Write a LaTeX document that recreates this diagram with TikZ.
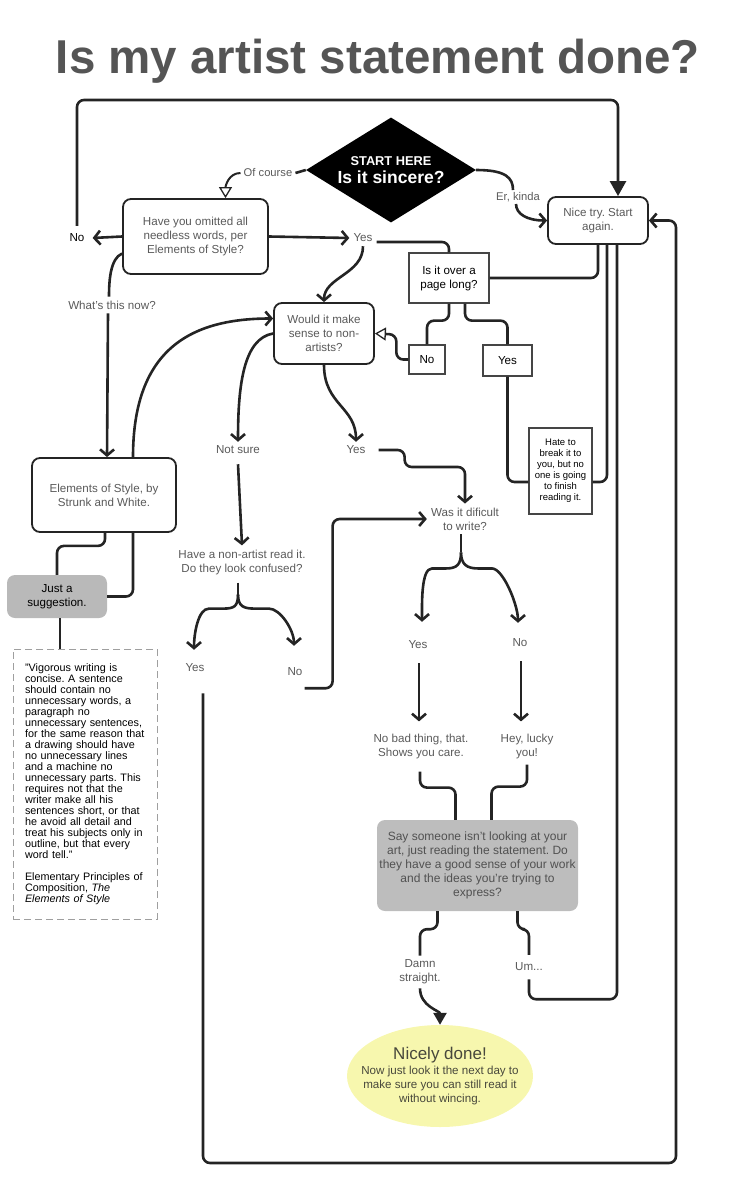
\documentclass[tikz,border=0pt]{standalone}
\usepackage{fontspec}
\setmainfont{Liberation Sans}
\usepackage{xcolor}
\usepackage{tikz}
\usetikzlibrary{calc}
\usetikzlibrary{arrows.meta}
\usetikzlibrary{shapes.geometric}
\frenchspacing

\definecolor{ink}{HTML}{242424}
\definecolor{txtgray}{HTML}{5A5A5A}
\definecolor{titlegray}{HTML}{555555}
\definecolor{boxgray}{HTML}{BDBDBD}
\definecolor{suggestgray}{HTML}{B9B9B9}
\definecolor{paleyellow}{HTML}{F7F7AE}
\definecolor{donetext}{HTML}{48483C}

\tikzset{
  conn/.style={draw=ink, line width=2.6pt, rounded corners=7pt},
  qbox/.style={draw=ink, line width=1.8pt, rounded corners=8pt, fill=white, text=txtgray, align=center, inner sep=0pt},
  sqbox/.style={draw=ink!85, line width=1.3pt, fill=white, text=black, align=center, inner sep=0pt},
  answer/.style={text=txtgray, align=center, inner sep=4pt},
  opentip/.style={-{Triangle[open,length=11pt,width=13pt,line width=1.3pt]}},
}

\begin{document}
\begin{tikzpicture}[x=1pt, y=-1pt, >={Straight Barb[length=6pt,width=14pt]},
  every node/.style={font=\fontsize{11.6}{14}\selectfont}]
\useasboundingbox (0,0) rectangle (728,1185);

% title
\node[anchor=base, text=titlegray, font=\fontsize{47.5}{50}\selectfont\bfseries] (title) at (378,74) {Is my artist statement done?};

% boxes
\node[diamond, fill=black, aspect=1.62, minimum width=170pt, minimum height=105pt, inner sep=0pt,
  text=white, align=center, font=\bfseries] (start) at (391,170)
  {{\fontsize{12.8}{14}\selectfont START HERE}\\[4pt]{\fontsize{17.5}{19}\selectfont Is it sincere?}};
\node[qbox, minimum width=145pt, minimum height=75pt] (omit) at (195.5,236.5) {Have you omitted all\\needless words, per\\Elements of Style?};
\node[qbox, minimum width=100pt, minimum height=47pt] (nicetry) at (598,220.5) {Nice try. Start\\again.};
\node[sqbox, minimum width=80pt, minimum height=50pt] (pagelong) at (449,278) {Is it over a\\page long?};
\node[qbox, minimum width=100pt, minimum height=61pt] (sense) at (324,333.5) {Would it make\\sense to non-\\artists?};
\node[sqbox, minimum width=36pt, minimum height=29pt] (no2) at (427,359.5) {No};
\node[sqbox, minimum width=49pt, minimum height=31pt] (yes2) at (507.5,360.5) {Yes};
\node[sqbox, minimum width=63pt, minimum height=86pt, font=\fontsize{9.5}{11}\selectfont] (hate) at (560.5,471)
  {Hate to\\break it to\\you, but no\\one is going\\to finish\\reading it.};
\node[qbox, minimum width=144pt, minimum height=74pt] (elements) at (104,495) {Elements of Style, by\\Strunk and White.};
\node[fill=suggestgray, rounded corners=8pt, minimum width=100pt, minimum height=43pt, inner sep=0pt, align=center] (suggest) at (57,596.5) {Just a\\suggestion.};
\node[draw=gray!75, dash pattern=on 7pt off 4pt, line width=1pt, minimum width=144pt, minimum height=270pt,
  text width=120pt, align=left, inner sep=0pt, font=\fontsize{10.8}{11}\selectfont] (quote) at (85,784)
  {"Vigorous writing is\\concise. A sentence\\should contain no\\unnecessary words, a\\paragraph no\\unnecessary sentences,\\for the same reason that\\a drawing should have\\no unnecessary lines\\and a machine no\\unnecessary parts. This\\requires not that the\\writer make all his\\sentences short, or that\\he avoid all detail and\\treat his subjects only in\\outline, but that every\\word tell."\\[11pt]Elementary Principles of\\Composition, \textit{The}\\\textit{Elements of Style}};
\node[fill=boxgray, rounded corners=8pt, minimum width=201pt, minimum height=91pt, inner sep=0pt, align=center,
  text=txtgray!90!black, font=\fontsize{12}{14}\selectfont] (grey) at (477.5,865.5)
  {Say someone isn't looking at your\\art, just reading the statement. Do\\they have a good sense of your work\\and the ideas you're trying to\\express?};
\node[ellipse, fill=paleyellow, minimum width=186pt, minimum height=102pt, inner sep=-16pt, align=center, text=donetext] (done) at (440,1076)
  {{\fontsize{17}{18}\selectfont Nicely done!}\\[1pt]Now just look it the next day to\\make sure you can still read it\\without wincing.};

% answers
\node[answer, font=\fontsize{11.2}{13}\selectfont, inner sep=3pt] (ofcourse) at (268,173) {Of course};
\node[answer, font=\fontsize{11.2}{13}\selectfont] (erkinda) at (518,197) {Er, kinda};
\node[answer, text=black, inner sep=8pt] (no1) at (77,238) {No};
\node[answer] (yes1) at (363,238) {Yes};
\node[answer] (whatsnow) at (112,305) {What's this now?};
\node[answer] (notsure) at (238,450) {Not sure};
\node[answer] (yes3) at (356,450) {Yes};
\node[answer] (nonartist) at (242,562) {Have a non-artist read it.\\Do they look confused?};
\node[answer] (difficult) at (465,519) {Was it dificult\\to write?};
\node[answer] (yes4) at (195,668) {Yes};
\node[answer] (no4) at (295,672) {No};
\node[answer] (yes5) at (418,645) {Yes};
\node[answer] (no5) at (520,643) {No};
\node[answer] (nobad) at (421,746) {No bad thing, that.\\Shows you care.};
\node[answer] (lucky) at (527,746) {Hey, lucky\\you!};
\node[answer] (damn) at (420,972) {Damn\\straight.};
\node[answer, inner sep=8pt] (um) at (529,967) {Um...};

\coordinate (looptop) at (618,100);
\coordinate (loopcorner) at (676,1163);

% top of the chart
\draw[conn, -{Triangle[length=15pt,width=16pt]}] (no1.north) |- (looptop) -- ($(nicetry.north)+(20,0)$);
\draw[conn] (start.west) -- (ofcourse.east);
\draw[conn, line width=2pt, opentip] (ofcourse.west) .. controls +(-12,0) and +(0,-12) .. ($(omit.north)+(30,0)$);
\draw[conn] (start.east) .. controls +(30,0) and +(0,-12) .. ($(erkinda.north)+(-5,2)$);
\draw[conn, ->] ($(erkinda.south)+(-2,-2)$) .. controls +(0,10) and +(-20,0) .. (nicetry.west);
\draw[conn, ->] (omit.west) -- (no1.east);
\draw[conn, ->] (omit.east) -- (yes1.west);
\draw[conn] ($(yes1.east)+(0,4)$) -| (pagelong.north);
\draw[conn, ->] (yes1.south) .. controls +(0,28) and +(0,-25) .. (sense.north);

% page length
\draw[conn] (pagelong.south) -- ++(0,17) -| (no2.north);
\draw[conn] ($(pagelong.south)+(16,0)$) -- ++(0,17) -| (yes2.north);
\draw[conn, opentip] (no2.west) -- ++(-12,0) -- ++(0,-25) -- (sense.east);
\draw[conn] (yes2.south) |- ($(hate.west)+(0,11)$);
\draw[conn] ($(hate.east)+(0,11)$) -| ($(nicetry.south)+(9,0)$);
\draw[conn] (pagelong.east) -| (nicetry.south);

% left side
\draw[conn] ($(omit.west)+(0,17)$) .. controls +(-12,5) and +(0,-15) .. ($(whatsnow.north)+(-3,0)$);
\draw[conn, ->] ($(whatsnow.south)+(-4,0)$) -- ($(elements.north)+(3,0)$);
\draw[conn, ->] ($(elements.north)+(29,0)$) .. controls +(0,-110) and +(-80,0) .. ($(sense.west)+(0,-15)$);
\draw[conn] ($(elements.south)+(1,0)$) -- ++(0,13) -| (suggest.north);
\draw[conn] ($(elements.south)+(29,0)$) |- (suggest.east);
\draw[conn] ($(suggest.south)+(3,0)$) -- ($(suggest.south |- quote.north)+(3,0)$);

% would it make sense
\draw[conn, ->] (sense.west) .. controls +(-30,5) and +(0,-55) .. (notsure.north);
\draw[conn, ->] (sense.south) .. controls +(0,40) and +(0,-35) .. (yes3.north);
\draw[conn, ->] ($(notsure.south)+(0,6)$) -- (nonartist.north);
\draw[conn, ->] ($(yes3.east)+(9,0)$) -- ++(26,0) -- ++(0,17) -| (difficult.north);

% non-artist fork
\draw[conn] ($(nonartist.south)+(-4,4)$) -- ++(0,12) coordinate (fork1);
\draw[conn, ->] (fork1) .. controls +(0,12) and +(18,0) .. ($(fork1)+(-22,14)$) .. controls +(-18,0) and +(0,-16) .. ($(yes4.north)+(-1,-10)$);
\draw[conn, ->] (fork1) .. controls +(0,12) and +(-18,0) .. ($(fork1)+(24,14)$) .. controls +(18,0) and +(0,-16) .. ($(no4.north)+(-1,-18)$);
\draw[conn, ->] ($(no4.south east)+(-2,8)$) -- ++(28,0) |- (difficult.west);
\draw[conn, ->] ($(yes4.south)+(8,17)$) |- (loopcorner) |- (nicetry.east);

% difficult fork
\draw[conn] ($(difficult.south)+(-4,0)$) -- ++(0,18) coordinate (fork2);
\draw[conn, ->] (fork2) .. controls +(0,12) and +(18,0) .. ($(fork2)+(-22,16)$) .. controls +(-18,0) and +(0,-18) .. ($(yes5.north)+(4,-15)$);
\draw[conn, ->] (fork2) .. controls +(0,12) and +(-18,0) .. ($(fork2)+(24,16)$) .. controls +(18,0) and +(0,-18) .. ($(no5.north)+(-2,-12)$);
\draw[conn, ->] ($(yes5.south)+(1,10)$) -- ($(nobad.north)+(-2,-8)$);
\draw[conn, ->] ($(no5.south)+(1,10)$) -- ($(lucky.north)+(-6,-8)$);
\draw[conn] ($(nobad.south)+(-1,9)$) -- ++(0,16) -| ($(grey.north)+(-22,0)$);
\draw[conn] ($(lucky.south)+(0,2)$) -- ++(0,22) -| ($(grey.north)+(14,0)$);

% bottom
\draw[conn] ($(grey.south)+(-40,0)$) -- ++(0,18) -| (damn.north);
\draw[conn] ($(grey.south)+(40,0)$) -- ++(0,18) -| (um.north);
\draw[conn] (um.south) -- ++(0,20) -| ($(nicetry.south)+(19,0)$);
\draw[conn, -{Triangle[length=12pt,width=13pt]}] (damn.south) .. controls +(0,18) and +(0,-14) .. (done.north);
\end{tikzpicture}
\end{document}
